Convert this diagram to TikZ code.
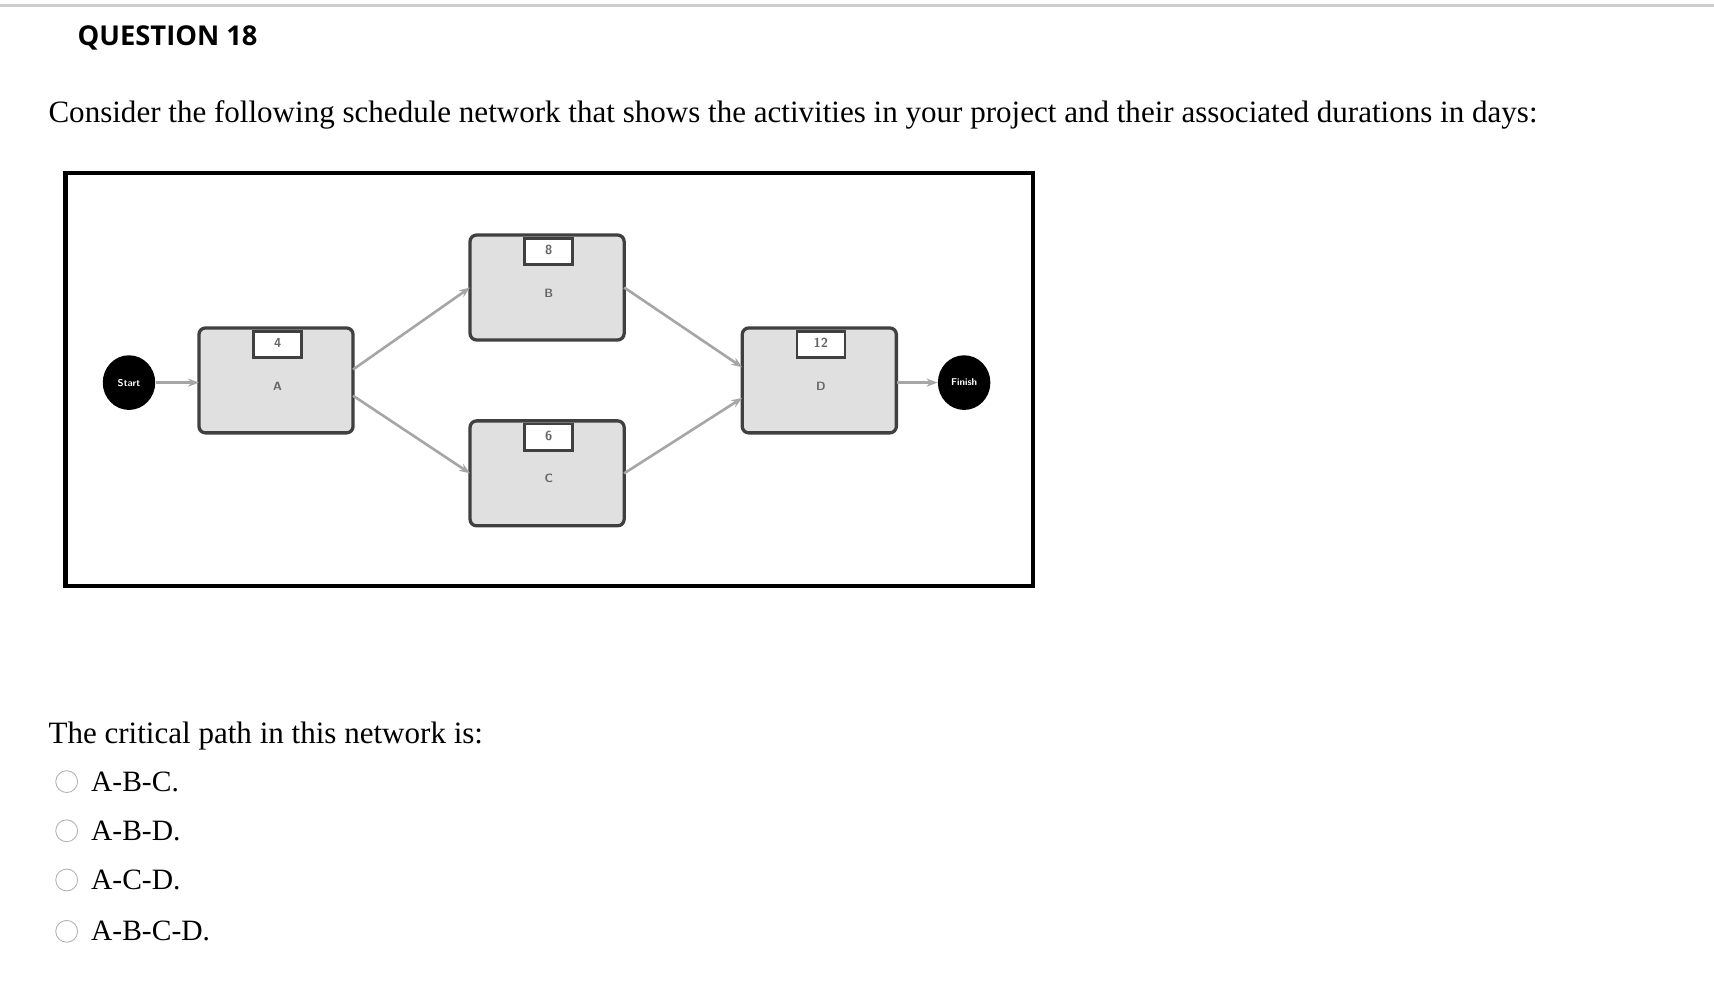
\documentclass[tikz,border=0pt]{standalone}
\usepackage{fontspec}
\setmainfont{Liberation Serif}
\newfontfamily\headfont{Open Sans}
\usetikzlibrary{arrows.meta,shapes.geometric}
\begin{document}
\begin{tikzpicture}[x=0.5pt,y=-0.5pt,
  act/.style={draw=black!75,line width=1.5pt,fill=black!12,rounded corners=3pt},
  tab/.style={draw=black!75,line width=1.2pt,fill=white},
  ev/.style={ellipse,fill=black,minimum width=24pt,minimum height=25pt,inner sep=0pt,text=white,font=\sffamily\bfseries\fontsize{4.5}{5}\selectfont},
  conn/.style={draw=black!35,line width=1.2pt,-{Stealth[length=5pt]}},
  opt/.style={anchor=west,font=\fontsize{13.5}{16}\selectfont}]
\useasboundingbox (0,0) rectangle (1568,918);
\draw[black!20,line width=1pt] (0,5) -- (1568,5);
\node[anchor=west,font=\headfont\bfseries\fontsize{12.5}{15}\selectfont] (q) at (64,35) {QUESTION 18};
\node[anchor=west,inner sep=0pt,font=\fontsize{14.2}{17}\selectfont] (intro) at (44,105) {Consider the following schedule network that shows the activities in your project and their associated durations in days:};
\draw[line width=2pt] (60,158) rectangle (945,536);
% activities
\foreach \n/\x/\y/\d/\l in {A/182/300/4/A, B/430/215/8/B, C/430/385/6/C, D/679/300/12/D}{
  \draw[act] (\x,\y) rectangle ++(141,96);
  \coordinate (\n) at (\x+70.5,\y+48);
  \draw[tab] (\x+50,\y+3) rectangle ++(44,24);
  \node[font=\sffamily\bfseries\fontsize{6}{7}\selectfont,text=black!60] at (\x+72,\y+14) {\d};
  \node[font=\sffamily\bfseries\fontsize{5.5}{7}\selectfont,text=black!60] at (\x+72,\y+53) {\l};
}
\node[ev] (st) at (118,350) {Start};
\node[ev] (fi) at (882,350) {Finish};
\coordinate (Ain) at (182,350); \coordinate (Aou1) at (323,338); \coordinate (Aou2) at (323,362);
\coordinate (Bin) at (430,263); \coordinate (Bou) at (571,263);
\coordinate (Cin) at (430,433); \coordinate (Cou) at (571,433);
\coordinate (Din1) at (679,336); \coordinate (Din2) at (679,364); \coordinate (Dou) at (821,350);
\draw[conn] (st) -- (Ain);
\draw[conn] (Aou1) -- (Bin);
\draw[conn] (Aou2) -- (Cin);
\draw[conn] (Bou) -- (Din1);
\draw[conn] (Cou) -- (Din2);
\draw[conn] (Dou) -- (fi);
\node[anchor=west,inner sep=0pt,font=\fontsize{14.2}{17}\selectfont] (cp) at (44,673) {The critical path in this network is:};
\foreach \y/\t [count=\i] in {715/A-B-C., 760/A-B-D., 805/A-C-D., 852/A-B-C-D.}{
  \draw[black!30,fill=white] (61,\y) circle (10);
  \node[opt,inner sep=0pt] (o\i) at (83,\y) {\t};
}
\end{tikzpicture}
\end{document}
